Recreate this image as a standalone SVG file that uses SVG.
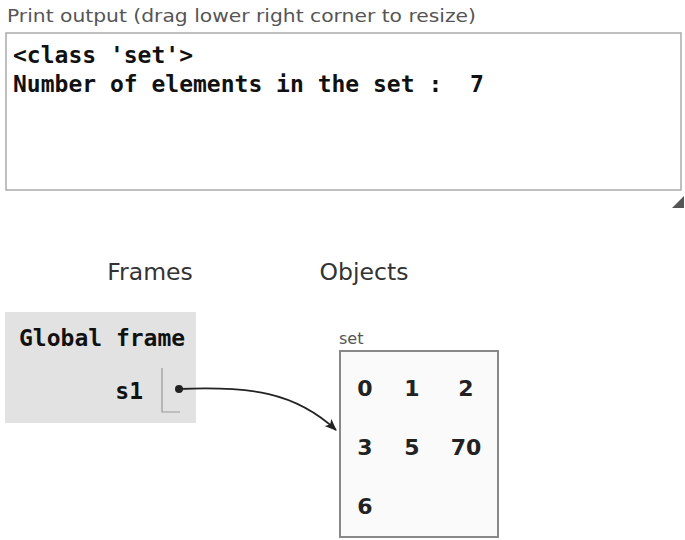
<svg xmlns="http://www.w3.org/2000/svg" width="685" height="540" viewBox="0 0 685 540">
<style>
.lbl{font-family:"DejaVu Sans",Verdana,sans-serif;fill:#555}
.mono{font-family:"DejaVu Sans Mono","Liberation Mono",monospace;font-weight:bold;font-size:23px;fill:#111;white-space:pre}
.hdr{font-family:"DejaVu Sans",Verdana,sans-serif;font-size:23.5px;fill:#333}
.num{font-family:"DejaVu Sans",Verdana,sans-serif;font-weight:bold;font-size:22px;fill:#222;text-anchor:middle}
</style>
<defs>
<marker id="ah" markerWidth="12" markerHeight="10" refX="11" refY="5" orient="auto" markerUnits="userSpaceOnUse">
<path d="M0,0 L12,5 L0,10 L3,5 Z" fill="#222"/>
</marker>
</defs>
<rect width="685" height="540" fill="#fff"/>
<g id="output">
<text class="lbl" x="7" y="22" font-size="18" textLength="469" lengthAdjust="spacingAndGlyphs">Print output (drag lower right corner to resize)</text>
<rect x="6" y="33" width="675" height="157" fill="#fff" stroke="#aaa" stroke-width="1.5"/>
<text class="mono" x="13" y="63">&lt;class 'set'&gt;</text>
<text class="mono" x="13" y="92" xml:space="preserve">Number of elements in the set :  7</text>
<path d="M684,196 L684,208 L672,208 Z" fill="#555"/>
</g>
<text class="hdr" x="150" y="280" text-anchor="middle">Frames</text>
<text class="hdr" x="364" y="280" text-anchor="middle">Objects</text>
<g id="global-frame">
<rect x="5" y="312" width="191" height="111" fill="#e2e2e2"/>
<text class="mono" x="19" y="346" fill="#222">Global frame</text>
<text class="mono" x="143" y="399" text-anchor="end">s1</text>
<path d="M162,368 L162,412 L180,412" fill="none" stroke="#999" stroke-width="1.2"/>
<circle cx="179" cy="389" r="4" fill="#222"/>
</g>
<g id="set-object">
<text class="lbl" x="339" y="344" font-size="16">set</text>
<rect x="340" y="351" width="158" height="186" fill="#fafafa" stroke="#888" stroke-width="2"/>
<text class="num" x="365" y="396">0</text>
<text class="num" x="412" y="396">1</text>
<text class="num" x="466" y="396">2</text>
<text class="num" x="365" y="455">3</text>
<text class="num" x="412" y="455">5</text>
<text class="num" x="466" y="455">70</text>
<text class="num" x="365" y="514">6</text>
</g>
<g id="connectors">
<path d="M179,389 C250,386 295,392 336,430" fill="none" stroke="#222" stroke-width="1.8" marker-end="url(#ah)"/>
</g>
</svg>
